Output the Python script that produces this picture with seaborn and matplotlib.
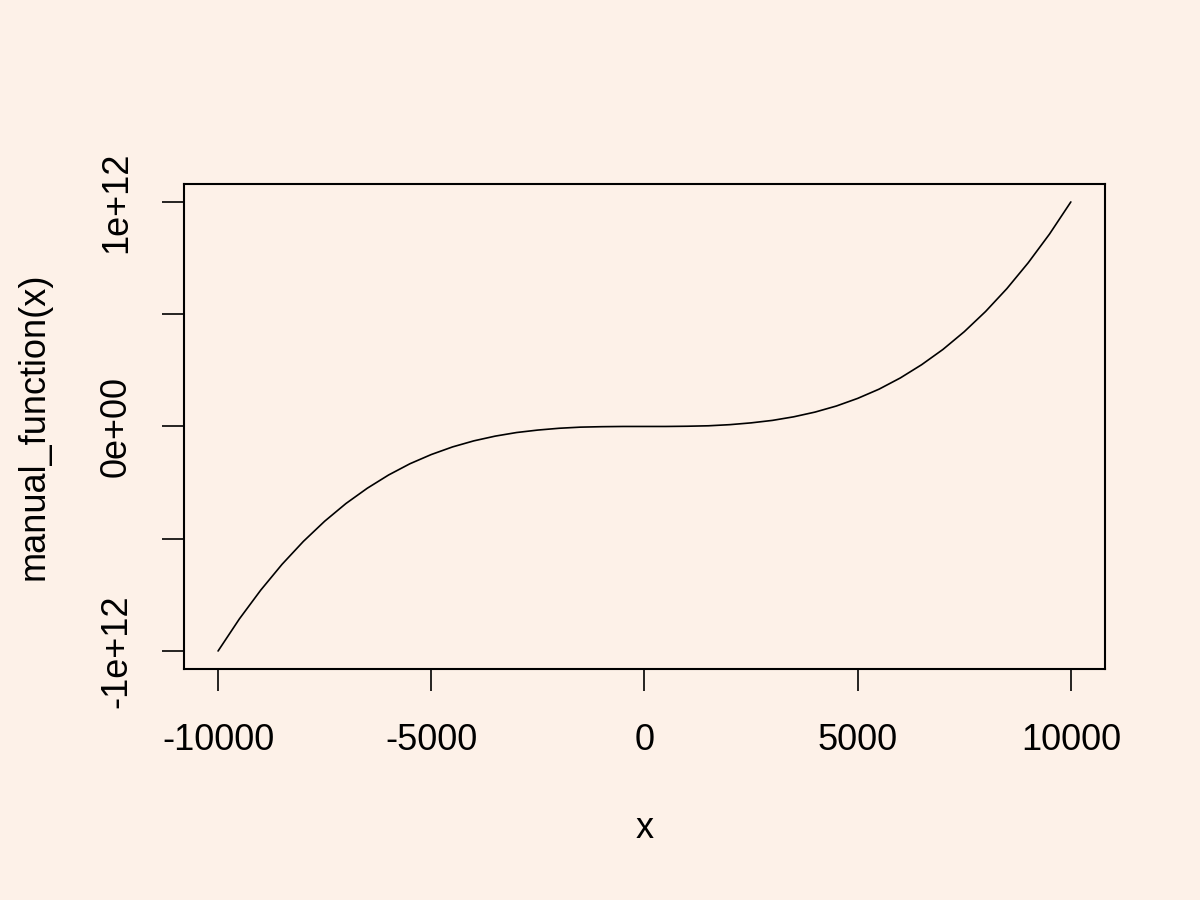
import pandas as pd
import matplotlib.pyplot as plt
import seaborn as sns

# values (y in units of 1e12)
x_vals = [-10000, -9500, -9000, -8500, -8000, -7500, -7000, -6500, -6000, -5500,
          -5000, -4500, -4000, -3500, -3000, -2500, -2000, -1500, -1000, -500,
          0, 500, 1000, 1500, 2000, 2500, 3000, 3500, 4000, 4500,
          5000, 5500, 6000, 6500, 7000, 7500, 8000, 8500, 9000, 9500, 10000]
y_vals = [-1.000, -0.857, -0.729, -0.614, -0.512, -0.422, -0.343, -0.275, -0.216, -0.166,
          -0.125, -0.091, -0.064, -0.043, -0.027, -0.016, -0.008, -0.003, -0.001, 0.000,
          0.000, 0.000, 0.001, 0.003, 0.008, 0.016, 0.027, 0.043, 0.064, 0.091,
          0.125, 0.166, 0.216, 0.275, 0.343, 0.422, 0.512, 0.614, 0.729, 0.857, 1.000]
x_ticks = [-10000, -5000, 0, 5000, 10000]
y_ticks = [-1e12, -5e11, 0, 5e11, 1e12]
y_labels = ["-1e+12", "", "0e+00", "", "1e+12"]

df = pd.DataFrame({"x": x_vals, "y": [v * 1e12 for v in y_vals]})

sns.set_theme(style="ticks")
plt.rcParams["font.family"] = ["Liberation Sans", "DejaVu Sans"]
bg = "#FDF1E8"

fig = plt.figure(figsize=(12, 9), dpi=100, facecolor=bg)
ax = fig.add_axes([0.1533, 0.2567, 0.7675, 0.5389])
ax.set_facecolor(bg)

sns.lineplot(data=df, x="x", y="y", color="black", linewidth=1.2, ax=ax)

ax.set_xlim(-10800, 10800)
ax.set_ylim(-1.08e12, 1.08e12)
ax.set_xticks(x_ticks)
ax.set_xticklabels([str(t) for t in x_ticks])
ax.set_yticks(y_ticks)
ax.set_yticklabels(y_labels, rotation=90, va="center")

for s in ax.spines.values():
    s.set_color("black")
    s.set_linewidth(1.5)

ax.tick_params(axis="both", length=16, width=1.2, color="black",
               labelsize=26, labelcolor="black")
ax.tick_params(axis="x", pad=23)
ax.tick_params(axis="y", pad=20)

ax.set_xlabel("x", fontsize=26, labelpad=38, color="black")
ax.set_ylabel("manual_function(x)", fontsize=26, labelpad=34, color="black")

fig.savefig("out.png", dpi=100, facecolor=bg)
